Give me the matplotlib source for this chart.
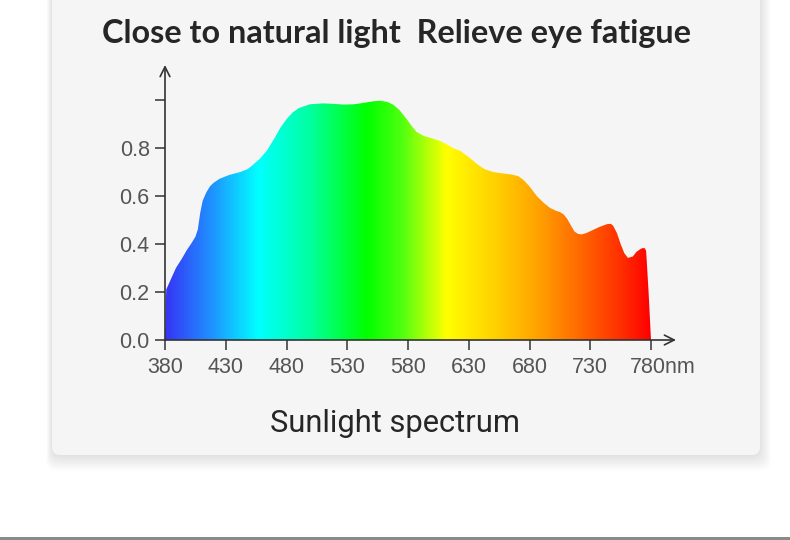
import numpy as np
import matplotlib.pyplot as plt
from matplotlib import font_manager as fm
from matplotlib.colors import LinearSegmentedColormap
from matplotlib.patches import FancyBboxPatch, Rectangle
from matplotlib.textpath import TextPath
from matplotlib.transforms import ScaledTranslation

# spectrum (wavelength nm, relative intensity)
wavelength = [380, 381, 385, 389, 394, 398, 402, 405, 407, 409, 411, 414, 417, 420,
              425, 433, 442, 448, 452, 458, 464, 470, 475, 480, 485, 490, 499, 510,
              518, 527, 535, 541, 546, 552, 557, 563, 568, 573, 579, 583, 587, 593,
              600, 606, 612, 617, 623, 630, 637, 643, 650, 658, 666, 671, 675, 680,
              686, 692, 697, 702, 705, 708, 711, 714, 717, 720, 723, 727, 732, 738,
              744, 747, 749, 752, 755, 758, 761, 765, 768, 771, 773, 775, 776, 778, 780]
intensity = [0.0, 0.21, 0.255, 0.30, 0.34, 0.375, 0.405, 0.43, 0.46, 0.53, 0.58, 0.615,
             0.64, 0.655, 0.672, 0.688, 0.70, 0.712, 0.728, 0.755, 0.79, 0.84, 0.885,
             0.92, 0.948, 0.966, 0.982, 0.986, 0.984, 0.981, 0.982, 0.986, 0.99, 0.995,
             0.997, 0.992, 0.98, 0.958, 0.92, 0.892, 0.867, 0.85, 0.84, 0.83, 0.815,
             0.80, 0.788, 0.762, 0.732, 0.712, 0.70, 0.694, 0.689, 0.682, 0.667, 0.64,
             0.60, 0.57, 0.55, 0.538, 0.533, 0.524, 0.505, 0.478, 0.452, 0.442, 0.44,
             0.446, 0.458, 0.472, 0.483, 0.484, 0.475, 0.445, 0.40, 0.362, 0.342, 0.348,
             0.367, 0.378, 0.383, 0.382, 0.37, 0.2, 0.0]

# colour stops of the gradient
stop_nm = [380, 417, 456, 499, 546, 575, 612, 656, 689, 727, 760, 780]
stop_colors = ['#3535f5', '#2090ff', '#00ffff', '#00ffa0', '#00ff00', '#50ff10',
               '#ffff00', '#ffcc00', '#ffa000', '#ff6000', '#ff2800', '#ff0000']

x_ticks = [380, 430, 480, 530, 580, 630, 680, 730, 780]
x_labels = ['380', '430', '480', '530', '580', '630', '680', '730', '780nm']
y_ticks = [0.0, 0.2, 0.4, 0.6, 0.8, 1.0]
y_labels = ['0.0', '0.2', '0.4', '0.6', '0.8', '']

title = 'Close to natural light  Relieve eye fatigue'
subtitle = 'Sunlight spectrum'

FAMILIES = {'Open Sans', 'Open Sans Condensed', 'Noto Sans', 'Roboto', 'Roboto Condensed',
            'Lato', 'Inter', 'Liberation Sans', 'Liberation Sans Narrow', 'DejaVu Sans'}


def weight_val(f):
    w = f.weight
    if isinstance(w, str):
        return {'bold': 700, 'semibold': 600, 'demibold': 600, 'normal': 400,
                'regular': 400, 'medium': 500, 'light': 300}.get(w, 400)
    return w


def pick_font(s, ink_w, cap_h, wmin, wmax):
    # choose the sans face whose width / cap-height ratio is closest to the picture
    target = ink_w / cap_h
    best = None
    seen = set()
    for f in fm.fontManager.ttflist:
        if f.name not in FAMILIES or f.fname in seen or f.style != 'normal':
            continue
        if not (wmin <= weight_val(f) <= wmax) or f.fname.endswith('.ttc'):
            continue
        seen.add(f.fname)
        try:
            fp = fm.FontProperties(fname=f.fname)
            w = TextPath((0, 0), s, size=100, prop=fp).get_extents().width
            h = TextPath((0, 0), 'H', size=100, prop=fp).get_extents().height
        except Exception:
            continue
        score = abs(np.log((w / h) / target))
        if best is None or score < best[0]:
            best = (score, fp, w)
    if best is None:
        fp = fm.FontProperties(family='Liberation Sans', weight=wmin)
        w = TextPath((0, 0), s, size=100, prop=fp).get_extents().width
        best = (0, fp, w)
    _, fp, w = best
    fp.set_size(ink_w * 72 / w)
    return fp


W, H = 790, 540
fig = plt.figure(figsize=(W / 100, H / 100), dpi=100, facecolor='white')

# background card in pixel coords
bg = fig.add_axes([0, 0, 1, 1])
bg.set_xlim(0, W)
bg.set_ylim(H, 0)
bg.axis('off')
for i in range(10):
    bg.add_patch(FancyBboxPatch((52 - i * 0.6, -30), 708 + i * 1.8, 486 + i * 1.6,
                                boxstyle='round,pad=0,rounding_size=10',
                                fc='#000000', ec='none', alpha=0.012))
bg.add_patch(FancyBboxPatch((52, -30), 708, 485, boxstyle='round,pad=0,rounding_size=8',
                            fc='#f5f5f5', ec='none'))
bg.add_patch(Rectangle((0, 537), W, 3, fc='#8a8a8a', ec='none'))

bg.text(396, 43.5, title, ha='center', va='baseline', color='#262626',
        fontproperties=pick_font(title, 588, 24, 700, 800))
bg.text(394.5, 432.5, subtitle, ha='center', va='baseline', color='#262626',
        fontproperties=pick_font(subtitle, 247, 22, 400, 500))

# chart axes: 380nm at px 165, 780nm at px 651, y 0 at px 340, 1.0 at px 100
px_per_nm = (651 - 165) / 400
x_end = 380 + (676 - 165) / px_per_nm
y_end = (340 - 65) / 240
ax = fig.add_axes([165 / W, (H - 340) / H, (676 - 165) / W, (340 - 65) / H])
ax.set_facecolor('none')
ax.set_xlim(380, x_end)
ax.set_ylim(0, y_end)
for s in ax.spines.values():
    s.set_visible(False)

cmap = LinearSegmentedColormap.from_list(
    'spec', [((n - 380) / 400, c) for n, c in zip(stop_nm, stop_colors)])
grad = np.linspace(380, 780, 800)[None, :]
img = ax.imshow(grad, cmap=cmap, vmin=380, vmax=780, aspect='auto',
                extent=[380, 780, 0, 1.05], origin='lower', zorder=1)
poly = ax.fill_between(wavelength, intensity, 0, color='none', lw=0)
img.set_clip_path(poly.get_paths()[0], transform=ax.transData)

arrow = dict(arrowstyle='->,head_length=0.7,head_width=0.35', lw=1.2, color='#333333',
             shrinkA=0, shrinkB=0)
ax.annotate('', xy=(x_end, 0), xytext=(380, 0), arrowprops=arrow, annotation_clip=False, zorder=3)
ax.annotate('', xy=(380, y_end), xytext=(380, 0), arrowprops=arrow, annotation_clip=False, zorder=3)

ax.set_xticks(x_ticks)
ax.set_xticklabels(x_labels)
ax.set_yticks(y_ticks)
ax.set_yticklabels(y_labels)
ax.tick_params(direction='out', length=7, width=1.1, color='#333333', labelcolor='#555555',
               labelsize=15.5)
ax.tick_params(axis='x', pad=5)
ax.tick_params(axis='y', pad=4)
for lab in ax.get_xticklabels() + ax.get_yticklabels():
    lab.set_family('Liberation Sans')
last = ax.get_xticklabels()[-1]
last.set_transform(last.get_transform() + ScaledTranslation(0.115, 0, fig.dpi_scale_trans))

fig.savefig('out.png', dpi=100, facecolor='white')
